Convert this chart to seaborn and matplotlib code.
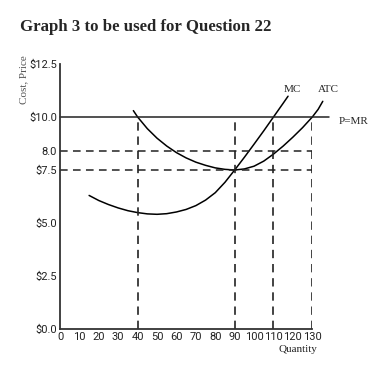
import matplotlib
matplotlib.use("Agg")
import matplotlib.pyplot as plt
import pandas as pd
import seaborn as sns

# ---- data ----
quantity_mc = [15, 20, 25, 30, 35, 40, 45, 50, 55, 60, 65, 70, 75, 80, 85, 90, 95, 100, 105, 110, 115, 117.5]
mc = [6.30, 6.06, 5.87, 5.71, 5.58, 5.49, 5.43, 5.41, 5.44, 5.52, 5.64, 5.82, 6.08, 6.43, 6.92, 7.50, 8.10, 8.72, 9.35, 10.0, 10.65, 10.98]

quantity_atc = [37.8, 40, 45, 50, 55, 60, 65, 70, 75, 80, 85, 90, 95, 100, 105, 110, 115, 120, 125, 130, 133, 135.4]
atc = [10.30, 10.0, 9.45, 9.00, 8.63, 8.32, 8.07, 7.87, 7.72, 7.60, 7.53, 7.50, 7.55, 7.68, 7.92, 8.25, 8.63, 9.05, 9.50, 10.0, 10.36, 10.74]

price = 10.0
price_line_q = [0, 138.6]
guide_q = [40, 90, 110, 130]
guide_cost = [7.5, 8.4]

ytick_pos = [0.0, 2.5, 5.0, 7.5, 8.4, 10.0, 12.5]
ytick_labels = ["$0.0", "$2.5", "$5.0", "$7.5", "8.0", "$10.0", "$12.5"]
xticks = [0, 10, 20, 30, 40, 50, 60, 70, 80, 90, 100, 110, 120, 130]

df_mc = pd.DataFrame({"Quantity": quantity_mc, "Cost": mc})
df_atc = pd.DataFrame({"Quantity": quantity_atc, "Cost": atc})

sns.set_style("white")
plt.rcParams["font.family"] = ["Roboto", "DejaVu Sans"]

W = 377
fig = plt.figure(figsize=(3.77, 3.77), dpi=100)
ax = fig.add_axes([60 / W, 48 / W, (312.3 - 60) / W, (329 - 64) / W])

sns.lineplot(data=df_mc, x="Quantity", y="Cost", ax=ax, color="black", lw=1.1, clip_on=False, sort=False)
sns.lineplot(data=df_atc, x="Quantity", y="Cost", ax=ax, color="black", lw=1.1, clip_on=False, sort=False)

ax.plot(price_line_q, [price, price], color="#222222", lw=1.1, clip_on=False)

dash = (0, (5, 3.5))
ax.hlines(guide_cost, 0, max(guide_q), colors="#222222", linestyles=[dash], lw=1.1)
ax.vlines(guide_q, 0, price, colors="#222222", linestyles=[dash], lw=1.2)

ax.set_xlim(0, 130)
ax.set_ylim(0, 12.5)
ax.set_xticks(xticks)
ax.set_xticklabels([str(v) for v in xticks])
ax.set_yticks(ytick_pos)
ax.set_yticklabels(ytick_labels)
ax.set_xlabel("")
ax.set_ylabel("")

ax.tick_params(direction="in", length=4, width=1.0, colors="#333333", labelsize=8, pad=2,
               labelcolor="#222222")
for side in ["top", "right"]:
    ax.spines[side].set_visible(False)
for side in ["left", "bottom"]:
    ax.spines[side].set_color("#333333")
    ax.spines[side].set_linewidth(1.3)

serif = ["Liberation Serif", "DejaVu Serif"]
ax.text(119.5, 11.31, "MC", family=serif, fontsize=8, ha="center", va="center", clip_on=False)
ax.text(138.1, 11.31, "ATC", family=serif, fontsize=8, ha="center", va="center", clip_on=False)
ax.text(143.8, 9.79, "P=MR", family=serif, fontsize=8, ha="left", va="center", clip_on=False)

fig.text(20 / W, 1 - 27 / W, "Graph 3 to be used for Question 22", family=serif,
         fontweight="bold", fontsize=12.1, ha="left", va="center")
fig.text(24 / W, 1 - 80 / W, "Cost, Price", family=serif, color="#555555", fontsize=8,
         rotation=90, ha="center", va="center")
fig.text(298 / W, 1 - 349 / W, "Quantity", family=serif, color="#222222", fontsize=8,
         ha="center", va="center")

fig.savefig("out.png", dpi=100)
